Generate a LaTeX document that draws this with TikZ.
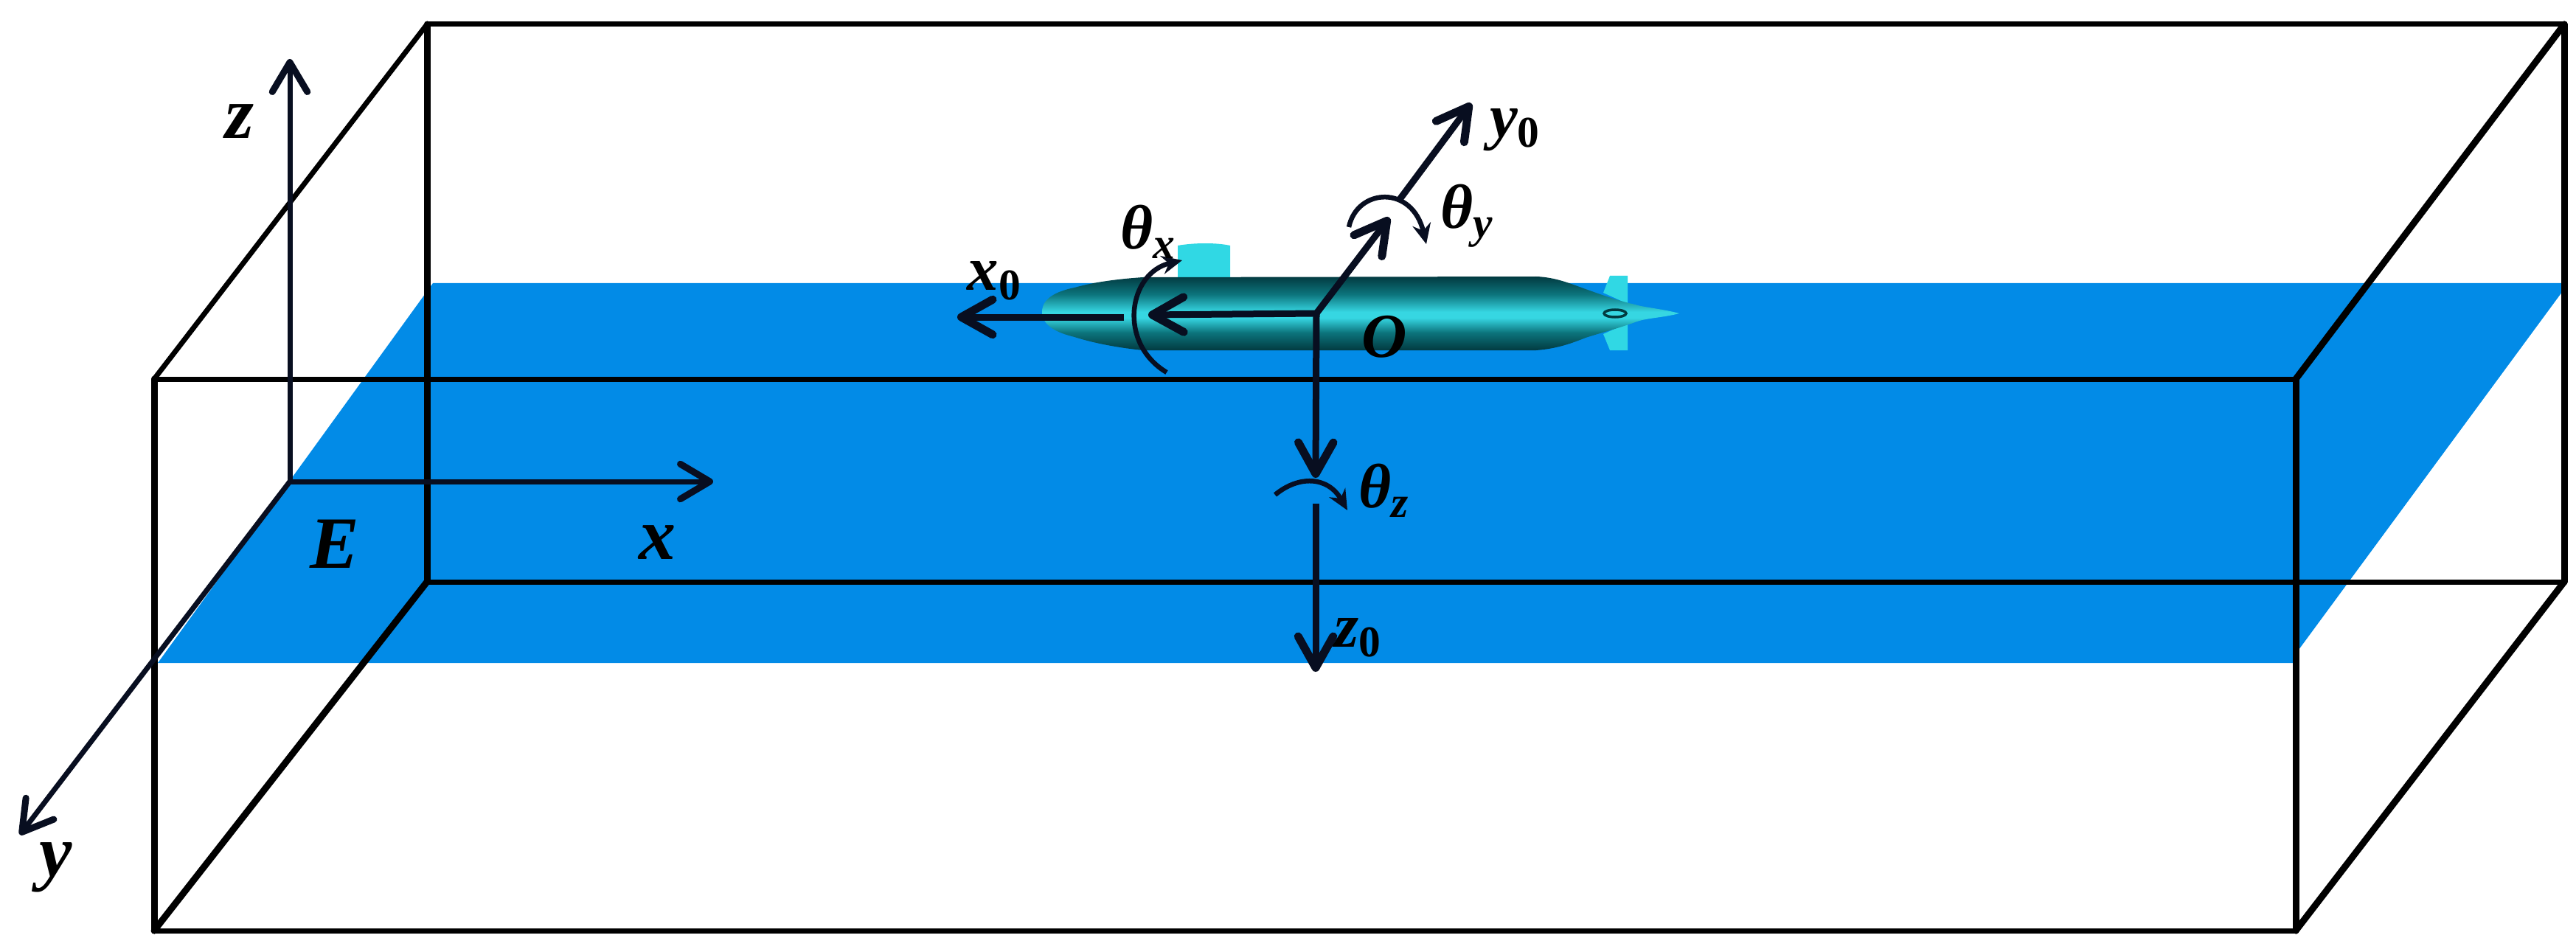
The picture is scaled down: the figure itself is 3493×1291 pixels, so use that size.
\documentclass[tikz,border=0pt]{standalone}
\usepackage{fontspec}
\setmainfont{Liberation Serif}
\usetikzlibrary{arrows.meta}
\definecolor{waterblue}{RGB}{2,139,231}
\definecolor{axisnavy}{RGB}{8,14,32}
\definecolor{hullcyan}{RGB}{54,214,226}
\definecolor{hullmid}{RGB}{12,116,124}
\definecolor{hulldark}{RGB}{2,58,64}
\definecolor{sailcyan}{RGB}{48,216,228}
\pgfdeclareverticalshading{hullshade}{100bp}{
  color(0bp)=(hulldark); color(25bp)=(hulldark); color(37bp)=(hullmid); color(47bp)=(hullcyan);
  color(51bp)=(hullcyan); color(63bp)=(hullmid); color(75bp)=(hulldark); color(100bp)=(hulldark)}
\tikzset{
  every picture/.style={line width=0.75pt},
  boxline/.style={line width=1.4pt,black,line cap=round},
  boxedge/.style={line width=1.8pt,black,line cap=round},
  axisline/.style={line width=1.4pt,axisnavy},
  axistip/.style={-{Straight Barb[length=8pt,width=9.5pt,round,line width=1.8pt]}},
  subaxis/.style={line width=1.8pt,axisnavy},
  bigtip/.style={-{Straight Barb[length=8.5pt,width=9.5pt,round,line width=2.2pt]}},
  spinarc/.style={line width=1.3pt,axisnavy,-{Stealth[length=5.5pt,width=5pt]}},
  biglabel/.style={inner sep=0pt,font=\fontsize{20}{24}\selectfont\bfseries\itshape},
  sublabel/.style={inner sep=0pt,font=\fontsize{17}{20}\selectfont\bfseries\itshape},
}

\begin{document}
\begin{tikzpicture}[x=0.2pt,y=0.2pt,yscale=-1,xscale=1]
\useasboundingbox (0,0) rectangle (3493,1291);

% Box corners
\coordinate (FTL) at (209,514);
\coordinate (FTR) at (3113,514);
\coordinate (FBL) at (209,1262);
\coordinate (FBR) at (3113,1262);
\coordinate (BTL) at (579,33);
\coordinate (BTR) at (3477,33);
\coordinate (BBL) at (579,789);
\coordinate (BBR) at (3477,789);

% Water plane
\fill [waterblue] (214,899) -- (587,384) -- (3477,384) -- (3477,392) -- (3117,881) -- (3113,881) -- (3113,899) -- cycle;

% Fins and sail
\fill [sailcyan] (2183,374) -- (2207,374) -- (2207,412) -- (2174,397) -- cycle;
\fill [sailcyan] (2174,453) -- (2207,438) -- (2207,475) -- (2183,475) -- cycle;
\fill [sailcyan] (1597,376) -- (1597,333) .. controls (1620,329) and (1650,329) .. (1668,333) -- (1668,376) -- cycle;

% Hull
\path [shading=hullshade] (1413,423) .. controls (1413,405) and (1432,395) .. (1457,390)
  .. controls (1485,382) and (1520,378) .. (1550,376)
  -- (2083,375) .. controls (2110,376) and (2130,385) .. (2150,392)
  .. controls (2175,401) and (2195,408) .. (2217,413)
  .. controls (2230,417) and (2255,419) .. (2277,425)
  .. controls (2255,431) and (2232,431) .. (2217,437)
  .. controls (2195,445) and (2172,451) .. (2150,458)
  .. controls (2130,466) and (2110,473) .. (2083,475)
  -- (1550,475) .. controls (1520,472) and (1485,466) .. (1457,457)
  .. controls (1432,451) and (1413,441) .. (1413,423) -- cycle;
\draw [hulldark, line width=0.7pt, fill=hullcyan] (2190,425) ellipse (15 and 5);

% Box edges
\draw [boxline] (FTL) -- (FTR);
\draw [boxline] (FBL) -- (FBR);
\draw [boxline] (BTL) -- (BTR);
\draw [boxline] (BBL) -- (BBR);
\draw [boxedge] (FTL) -- (FBL);
\draw [boxedge] (FTR) -- (FBR);
\draw [boxedge] (BTL) -- (BBL);
\draw [boxedge] (BTR) -- (BBR);
\draw [boxline] (FTL) -- (BTL);
\draw [boxedge] (FTR) -- (BTR);
\draw [boxedge] (FBL) -- (BBL);
\draw [boxedge] (FBR) -- (BBR);

% Earth frame
\coordinate (E) at (393,653);
\coordinate (Ez) at (393,80);
\coordinate (Ex) at (967,653);
\coordinate (Ey) at (27,1132);
\draw [axisline, axistip] (E) -- (Ez);
\draw [axisline, axistip] (E) -- (Ex);
\draw [axisline, axistip] (E) -- (Ey);

% Body frame
\coordinate (O) at (1785,425);
\coordinate (Xa) at (1557,427);
\coordinate (Xb) at (1524,430);
\coordinate (Xc) at (1298,430);
\coordinate (Ya) at (1884,295);
\coordinate (Yb) at (1896,273);
\coordinate (Yc) at (1995,140);
\coordinate (Za) at (1784,648);
\coordinate (Zb) at (1784,683);
\coordinate (Zc) at (1784,911);
\draw [subaxis, bigtip] (O) -- (Xa);
\draw [subaxis, bigtip] (Xb) -- (Xc);
\draw [subaxis, bigtip] (O) -- (Ya);
\draw [subaxis, bigtip] (Yb) -- (Yc);
\draw [subaxis, bigtip] (O) -- (Za);
\draw [subaxis, bigtip] (Zb) -- (Zc);

% Rotation arcs
\coordinate (Rxa) at (1582,505);
\coordinate (Rxb) at (1603,353);
\coordinate (Rya) at (1829,308);
\coordinate (Ryb) at (1934,331);
\coordinate (Rza) at (1729,671);
\coordinate (Rzb) at (1827,692);
\draw [spinarc] (Rxa) .. controls (1515,465) and (1530,370) .. (Rxb);
\draw [spinarc] (Rya) .. controls (1840,255) and (1915,250) .. (Ryb);
\draw [spinarc] (Rza) .. controls (1760,645) and (1800,645) .. (Rzb);

% Text Node
\node [biglabel] (zlabel) at (325,165) {z};
% Text Node
\node [biglabel] (xlabel) at (891,736) {x};
% Text Node
\node [biglabel] (elabel) at (454,738) {E};
% Text Node
\node [biglabel] (ylabel) at (76,1176) {y};
% Text Node
\node [sublabel] (xzero) at (1349,381) {x\textsubscript{\upshape 0}};
% Text Node
\node [sublabel] (yzero) at (2055,176) {y\textsubscript{\upshape 0}};
% Text Node
\node [sublabel] (zzero) at (1842,865) {z\textsubscript{\upshape 0}};
% Text Node
\node [sublabel] (olabel) at (1877,457) {O};
% Text Node
\node [sublabel] (thetax) at (1558,314) {θ\textsubscript{x}};
% Text Node
\node [sublabel] (thetay) at (1990,293) {θ\textsubscript{y}};
% Text Node
\node [sublabel] (thetaz) at (1877,665) {θ\textsubscript{z}};

\end{tikzpicture}
\end{document}
